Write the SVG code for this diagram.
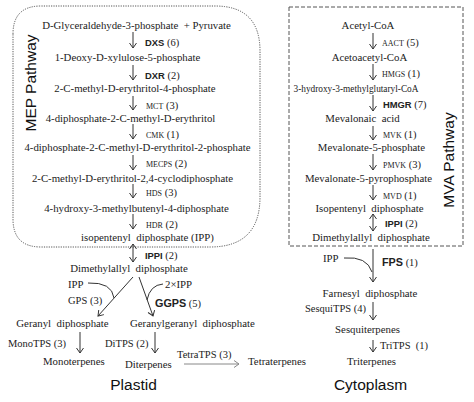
<svg xmlns="http://www.w3.org/2000/svg" width="474" height="402" viewBox="0 0 474 402">
<style>
text{font-family:"Liberation Serif","Times New Roman",serif;fill:#222;}
.c{font-size:10.8px;text-anchor:middle;}
.s{font-size:10.8px;}
.e{font-size:8px;}
.n{font-size:10.5px;}
.b{font-family:"Liberation Sans",Arial,sans-serif;font-weight:bold;font-size:9.4px;}
.bb{font-family:"Liberation Sans",Arial,sans-serif;font-weight:bold;font-size:10.8px;}
.t{font-family:"Liberation Sans",Arial,sans-serif;font-size:15.5px;text-anchor:middle;fill:#111;}
.ln{stroke:#333;stroke-width:1;fill:none;}
.ar{marker-end:url(#ah);}
.da{marker-start:url(#ah);marker-end:url(#ah);}
</style>
<defs>
<marker id="ah" viewBox="-6 -4 7 8" refX="0" refY="0" markerWidth="7" markerHeight="8" orient="auto-start-reverse" markerUnits="userSpaceOnUse"><path d="M-5,-3.5 L0,0 L-5,3.5" fill="none" stroke="#333" stroke-width="1"/></marker>
<marker id="ahg" viewBox="-6 -4 7 8" refX="0" refY="0" markerWidth="7" markerHeight="8" orient="auto" markerUnits="userSpaceOnUse"><path d="M-5,-3.5 L0,0 L-5,3.5" fill="none" stroke="#888" stroke-width="1"/></marker>
</defs>
<rect width="474" height="402" fill="#fff"/>
<g id="mep-box">
<path d="M13,34 Q13,6 41,6 L215,6 Q260,6 260,51 L260,197 Q260,247 210,247 L41,247 Q13,247 13,219 Z" fill="none" stroke="#555" stroke-width="1" stroke-dasharray="1.2,1.2"/>
<text class="t" transform="translate(36,83) rotate(-90)">MEP Pathway</text>
</g>
<g id="mva-box">
<rect x="289" y="7" width="174" height="239" fill="none" stroke="#555" stroke-width="1" stroke-dasharray="4,2"/>
<text class="t" transform="translate(454,160) rotate(-90)">MVA Pathway</text>
</g>
<g id="mep-nodes">
<g id="g3p"><text class="c" x="136.5" y="29" xml:space="preserve">D-Glyceraldehyde-3-phosphate  + Pyruvate</text></g>
<g id="dxp"><text class="c" x="127.5" y="61">1-Deoxy-D-xylulose-5-phosphate</text></g>
<g id="mep"><text class="c" x="135" y="92">2-C-methyl-D-erythritol-4-phosphate</text></g>
<g id="cdpme"><text class="c" x="130.5" y="122">4-diphosphate-2-C-methyl-D-erythritol</text></g>
<g id="cdpmep"><text class="c" x="137.5" y="151">4-diphosphate-2-C-methyl-D-erythritol-2-phosphate</text></g>
<g id="mecpp"><text class="c" x="132.5" y="182">2-C-methyl-D-erythritol-2,4-cyclodiphosphate</text></g>
<g id="hmbpp"><text class="c" x="136.5" y="212">4-hydroxy-3-methylbutenyl-4-diphosphate</text></g>
<g id="ipp-p"><text class="c" x="147.5" y="241" xml:space="preserve">isopentenyl  diphosphate (IPP)</text></g>
</g>
<g id="mep-enzymes">
<text x="145" y="46"><tspan class="b">DXS</tspan><tspan class="n"> (6)</tspan></text>
<text x="145" y="79"><tspan class="b">DXR</tspan><tspan class="n"> (2)</tspan></text>
<text x="146" y="109"><tspan class="e">MCT</tspan><tspan class="n"> (3)</tspan></text>
<text x="146" y="138"><tspan class="e">CMK</tspan><tspan class="n"> (1)</tspan></text>
<text x="146" y="167"><tspan class="e">MECPS</tspan><tspan class="n"> (2)</tspan></text>
<text x="146" y="196"><tspan class="e">HDS</tspan><tspan class="n"> (3)</tspan></text>
<text x="146" y="228"><tspan class="e">HDR</tspan><tspan class="n"> (2)</tspan></text>
<text x="145" y="259"><tspan class="b">IPPI</tspan><tspan class="n"> (2)</tspan></text>
</g>
<g id="plastid-nodes">
<g id="dmapp-p"><text class="c" x="129" y="272" xml:space="preserve">Dimethylallyl  diphosphate</text></g>
<g id="ipp-l"><text class="s" x="68" y="288">IPP</text></g>
<g id="ipp2"><text class="s" x="165" y="288">2×IPP</text></g>
<g id="gps"><text class="n" x="68" y="304">GPS (3)</text></g>
<g id="ggps"><text x="155" y="307"><tspan class="bb">GGPS</tspan><tspan class="n"> (5)</tspan></text></g>
<g id="gpp"><text class="c" x="62.5" y="327" xml:space="preserve">Geranyl  diphosphate</text></g>
<g id="ggpp"><text class="s" x="130" y="327" xml:space="preserve">Geranylgeranyl  diphosphate</text></g>
<g id="monotps"><text class="n" x="8" y="347">MonoTPS (3)</text></g>
<g id="ditps"><text class="n" x="105" y="347">DiTPS (2)</text></g>
<g id="mono"><text class="s" x="43" y="365">Monoterpenes</text></g>
<g id="di"><text class="s" x="125" y="368">Diterpenes</text></g>
<g id="tetratps"><text class="n" x="177" y="358">TetraTPS (3)</text></g>
<g id="tetra"><text class="s" x="248" y="365">Tetraterpenes</text></g>
<g id="plastid"><text class="t" x="133.5" y="390">Plastid</text></g>
</g>
<g id="mva-nodes">
<g id="acoa"><text class="c" x="368" y="29">Acetyl-CoA</text></g>
<g id="aacoa"><text class="c" x="369.5" y="61">Acetoacetyl-CoA</text></g>
<g id="hmgcoa"><text class="c" x="356" y="92" style="font-size:9.3px">3-hydroxy-3-methylglutaryl-CoA</text></g>
<g id="mva"><text class="c" x="362.5" y="122" xml:space="preserve">Mevalonaic  acid</text></g>
<g id="mvp"><text class="c" x="371.5" y="151">Mevalonate-5-phosphate</text></g>
<g id="mvpp"><text class="c" x="368.5" y="182">Mevalonate-5-pyrophosphate</text></g>
<g id="ipp-c"><text class="c" x="369.5" y="212" xml:space="preserve">Isopentenyl  diphosphate</text></g>
<g id="dmapp-c"><text class="c" x="371" y="241" xml:space="preserve">Dimethylallyl  diphosphate</text></g>
</g>
<g id="mva-enzymes">
<text x="382" y="46"><tspan class="e">AACT</tspan><tspan class="n"> (5)</tspan></text>
<text x="382" y="77"><tspan class="e">HMGS</tspan><tspan class="n"> (1)</tspan></text>
<text x="383" y="108"><tspan class="b">HMGR</tspan><tspan class="n"> (7)</tspan></text>
<text x="383" y="138"><tspan class="e">MVK</tspan><tspan class="n"> (1)</tspan></text>
<text x="383" y="168"><tspan class="e">PMVK</tspan><tspan class="n"> (3)</tspan></text>
<text x="383" y="199"><tspan class="e">MVD</tspan><tspan class="n"> (1)</tspan></text>
<text x="385" y="227"><tspan class="b">IPPI</tspan><tspan class="n"> (2)</tspan></text>
</g>
<g id="cyto-nodes">
<g id="ipp-r"><text class="s" x="323" y="262">IPP</text></g>
<g id="fps"><text x="382" y="266"><tspan class="bb">FPS</tspan><tspan class="n"> (1)</tspan></text></g>
<g id="fpp"><text class="c" x="370" y="297" xml:space="preserve">Farnesyl  diphosphate</text></g>
<g id="sesquitps"><text class="n" x="305" y="312">SesquiTPS (4)</text></g>
<g id="sesqui"><text class="c" x="367.5" y="333">Sesquiterpenes</text></g>
<g id="tritps"><text class="n" x="380" y="349" xml:space="preserve">TriTPS  (1)</text></g>
<g id="tri"><text class="c" x="371.5" y="365">Triterpenes</text></g>
<g id="cyto"><text class="t" x="370.5" y="390">Cytoplasm</text></g>
</g>
<g id="connectors">
<line class="ln ar" x1="133" y1="32" x2="133" y2="48"/>
<line class="ln ar" x1="133" y1="65" x2="133" y2="80"/>
<line class="ln ar" x1="133" y1="96" x2="133" y2="110"/>
<line class="ln ar" x1="133" y1="124" x2="133" y2="139"/>
<line class="ln ar" x1="133" y1="155" x2="133" y2="170"/>
<line class="ln ar" x1="133" y1="184" x2="133" y2="198"/>
<line class="ln ar" x1="133" y1="214" x2="133" y2="229"/>
<line class="ln da" x1="133" y1="244" x2="133" y2="262"/>
<line class="ln ar" x1="133" y1="277" x2="98" y2="316"/>
<line class="ln ar" x1="139" y1="277" x2="153" y2="316"/>
<path class="ln" d="M88,283 Q112,282 114,298"/>
<path class="ln" d="M163,284 Q150,285 147,300"/>
<line class="ln ar" x1="80" y1="332" x2="80" y2="353"/>
<line class="ln ar" x1="155" y1="332" x2="155" y2="353"/>
<line x1="184" y1="364" x2="239" y2="364" stroke="#888" stroke-width="1" marker-end="url(#ahg)"/>
<line class="ln ar" x1="373" y1="33" x2="373" y2="49"/>
<line class="ln ar" x1="373" y1="64" x2="373" y2="80"/>
<line class="ln ar" x1="373" y1="95" x2="373" y2="111"/>
<line class="ln ar" x1="373" y1="126" x2="373" y2="140"/>
<line class="ln ar" x1="373" y1="154" x2="373" y2="170"/>
<line class="ln ar" x1="373" y1="185" x2="373" y2="200"/>
<line class="ln da" x1="373" y1="214" x2="373" y2="231"/>
<line class="ln ar" x1="373" y1="249" x2="373" y2="282"/>
<path class="ln" d="M344,258 Q367,256 372,272"/>
<line class="ln ar" x1="373" y1="302" x2="373" y2="320"/>
<line class="ln ar" x1="373" y1="340" x2="373" y2="352"/>
</g>
</svg>
